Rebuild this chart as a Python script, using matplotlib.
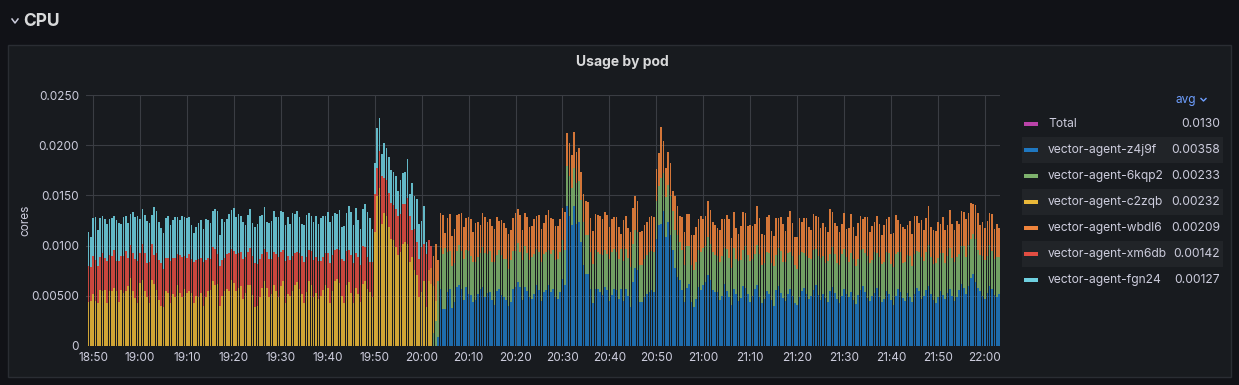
import numpy as np
import pandas as pd
import matplotlib
matplotlib.use("Agg")
import matplotlib.pyplot as plt
import matplotlib.dates as mdates
from matplotlib.lines import Line2D
from matplotlib.patches import Rectangle

plt.rcParams['font.family'] = ['Inter', 'DejaVu Sans']

# samples every 30 s, 18:49:00 .. 22:03:00
times = pd.date_range("2024-01-01 18:49:00", "2024-01-01 22:03:00", freq="30s")

# values in 1e-4 cores, each pod only reports while it is alive
c2zqb_start = 0
c2zqb = [44, 45, 52, 45, 43, 56, 55, 56, 43, 55, 55, 58, 55, 44, 56, 53, 55, 60, 68, 55,
         48, 43, 63, 66, 55, 49, 43, 66, 62, 56, 46, 40, 39, 55, 53, 43, 52, 49, 61, 53,
         49, 57, 53, 55, 53, 43, 50, 49, 53, 40, 49, 55, 56, 65, 61, 62, 40, 50, 55, 57,
         55, 66, 63, 55, 58, 60, 47, 53, 61, 61, 51, 39, 40, 49, 58, 65, 58, 49, 52, 61,
         55, 49, 60, 65, 43, 52, 50, 55, 61, 64, 57, 52, 43, 54, 65, 61, 49, 53, 47, 50,
         56, 61, 58, 43, 55, 65, 67, 63, 50, 43, 61, 64, 53, 43, 58, 52, 44, 62, 65, 57, 54, 49,
         114, 149, 157, 122, 132, 129, 119, 107, 106, 99, 91, 94, 102, 104, 102, 84, 89, 76,
         71, 49, 54, 65, 39,
         65, 62, 47, 20]

xm6db_start = 0
xm6db = [36, 34, 38, 41, 37, 33, 38, 32, 42, 36, 35, 38, 30, 41, 34, 37, 40, 28, 33, 38,
         39, 42, 30, 36, 38, 34, 41, 36, 29, 37, 40, 43, 38, 33, 35, 42, 36, 39, 31, 38,
         40, 33, 35, 37, 34, 41, 36, 38, 35, 44, 37, 33, 31, 34, 36, 30, 40, 36, 33, 35,
         38, 31, 32, 37, 35, 34, 40, 36, 33, 37, 39, 44, 42, 38, 34, 32, 36, 38, 35, 33,
         37, 40, 34, 31, 42, 38, 36, 35, 32, 30, 36, 38, 41, 35, 31, 34, 37, 36, 38, 35,
         33, 32, 35, 40, 36, 31, 30, 33, 37, 42, 34, 32, 38, 40, 35, 37, 37, 38, 34, 32, 30, 35,
         37, 28, 37, 47, 35, 36, 33, 35, 34, 37, 38, 37, 39, 37, 45, 45, 27, 41, 33, 38,
         45, 37, 53,
         30, 22]

fgn24_start = 0
fgn24 = [34, 30, 37, 42, 36, 38, 36, 38, 37, 35, 37, 33, 40, 38, 32, 38, 34, 35, 30, 40,
         41, 44, 33, 34, 37, 42, 39, 28, 47, 41, 38, 35, 36, 39, 41, 36, 37, 40, 36, 34,
         40, 38, 39, 36, 34, 29, 33, 36, 37, 33, 40, 37, 36, 35, 39, 42, 31, 40, 36, 34,
         38, 38, 42, 36, 38, 35, 37, 32, 36, 38, 33, 36, 40, 42, 38, 41, 30, 36, 38, 40,
         36, 39, 40, 37, 36, 38, 36, 42, 38, 40, 35, 32, 37, 41, 36, 34, 38, 40, 37, 42,
         40, 36, 40, 41, 38, 36, 34, 39, 32, 35, 37, 43, 42, 38, 44, 36, 36, 36, 42, 44, 43, 33,
         31, 40, 33, 22, 35, 32, 36, 33, 33, 33, 25, 34, 31, 32, 39, 22, 46, 32, 42, 35,
         26, 37, 12]

z4j9f_start = 149
z4j9f = [9, 57, 37, 37,
         54, 57, 38, 44, 59, 61, 57, 46, 59, 52, 51, 44, 46, 52, 57, 59, 49, 53, 54, 46,
         41, 55, 57, 51, 49, 46, 40, 44, 57, 59, 64, 59, 46, 59, 55, 49, 47, 52, 61, 56,
         45, 54, 56, 61, 54, 57, 49, 47, 54, 67, 61, 139, 129, 121, 139, 122, 124, 104, 81, 72,
         72, 57, 43, 57, 57, 54, 51, 59, 56, 45, 51, 57, 56, 47, 57, 45, 57,
         50,
         39, 64, 78, 76, 44, 44, 49, 52, 54, 56, 54, 107, 121, 122, 134, 109, 124, 111, 96, 78,
         69, 66, 56, 44, 58, 62, 44, 39, 47, 59, 56, 61, 64, 71, 66, 56, 54, 54,
         46, 50, 62, 55, 49, 41, 57, 52, 45, 48, 60, 58, 52, 44, 50, 57, 61, 49, 43, 47,
         55, 52, 46, 40, 56, 60, 53, 48, 45, 52, 57, 50, 43, 41, 49, 55, 58, 52, 47, 50,
         56, 61, 51, 46, 52, 48, 44, 55, 59, 53, 47, 43, 50, 57, 52, 49, 54, 46, 42, 51,
         56, 60, 54, 48, 45, 50, 53, 58, 49, 44, 47, 55, 52, 46, 41, 50, 57, 54, 48, 45,
         53, 49, 44, 52, 58, 55, 47, 50, 56, 60, 52, 46, 43, 49, 55, 51, 47, 53, 57, 50,
         45, 49, 56, 62, 58, 52, 60, 68, 72, 64, 58, 55, 50, 47, 53, 60, 57, 51, 49, 52]

kqp2_start = 147
kqp2 = [13, 25, 56, 41, 55, 61,
        40, 38, 42, 39, 36, 40, 38, 41, 37, 43, 39, 40, 38, 37, 36, 40, 44, 39, 41, 38,
        43, 36, 39, 40, 38, 41, 37, 42, 38, 36, 39, 35, 40, 41, 38, 37, 42, 40, 36, 38,
        39, 38, 38, 35, 38, 39, 37, 40, 40, 39, 35, 40, 40, 36, 38, 40, 40, 41, 43, 39,
        39, 37, 39, 39, 37, 38, 40, 37, 36, 42, 43, 40, 38, 40, 40, 40, 40,
        38,
        40, 38, 38, 38, 37, 37, 38, 39, 40, 39, 40, 37, 38, 45, 38, 39, 36, 38, 38, 38,
        42, 38, 40, 37, 42, 38, 37, 37, 37, 37, 38, 37, 36, 38, 36, 38, 37, 36,
        38, 40, 36, 42, 39, 37, 41, 35, 40, 38, 36, 42, 39, 41, 37, 35, 40, 43, 38, 36,
        39, 41, 37, 40, 35, 38, 42, 36, 39, 41, 37, 40, 38, 36, 42, 39, 35, 38, 41, 37,
        40, 36, 39, 42, 38, 35, 41, 37, 40, 39, 36, 38, 42, 40, 37, 35, 39, 41, 38, 36,
        40, 37, 39, 42, 38, 36, 41, 35, 40, 38, 37, 39, 41, 36, 38, 42, 37, 40, 35, 39,
        38, 41, 36, 40, 37, 39, 42, 35, 38, 41, 37, 36, 40, 39, 38, 42, 36, 37, 41, 38,
        39, 40, 36, 38, 42, 37, 41, 39, 40, 43, 38, 36, 40, 39, 37, 41, 38, 36, 40, 37]

wbdl6_start = 145
wbdl6 = [11, 16, 30, 57, 21, 34, 38, 15,
         33, 36, 30, 34, 35, 30, 37, 32, 31, 33, 36, 30, 39, 35, 28, 33, 35, 32, 31, 36,
         33, 37, 29, 34, 36, 31, 35, 30, 32, 37, 33, 36, 30, 32, 35, 33, 31, 34, 32, 36,
         33, 31, 36, 39, 35, 30, 34, 33, 32, 31, 37, 33, 33, 33, 36, 31, 33, 28, 27, 33,
         32, 33, 33, 35, 36, 37, 35, 37, 38, 32, 32, 31, 34, 32, 15, 40, 32,
         30,
         35, 35, 33, 30, 33, 34, 34, 33, 34, 34, 34, 32, 33, 51, 32, 29, 33, 33, 20, 33,
         28, 25, 32, 33, 31, 31, 30, 35, 35, 30, 35, 28, 29, 35, 33, 30, 30, 28,
         32, 36, 28, 33, 38, 30, 35, 31, 27, 34, 37, 32, 29, 36, 33, 30, 38, 35, 31, 28,
         34, 37, 32, 30, 36, 29, 33, 38, 31, 35, 40, 33, 28, 32, 36, 30, 34, 37, 31, 29,
         35, 32, 38, 30, 33, 36, 29, 44, 34, 31, 37, 33, 30, 35, 28, 34, 38, 32, 30, 36,
         33, 29, 35, 38, 31, 34, 30, 36, 33, 29, 37, 32, 35, 30, 34, 38, 31, 28, 36, 33,
         30, 35, 32, 37, 34, 29, 36, 31, 33, 38, 30, 34, 32, 36, 29, 35, 33, 31, 37, 34,
         32, 36, 30, 34, 33, 37, 31, 35, 29, 33, 36, 30, 34, 32, 35, 31, 36, 30, 33, 29]

legend_names = ["Total", "vector-agent-z4j9f", "vector-agent-6kqp2", "vector-agent-c2zqb",
                "vector-agent-wbdl6", "vector-agent-xm6db", "vector-agent-fgn24"]
legend_avgs = ["0.0130", "0.00358", "0.00233", "0.00232", "0.00209", "0.00142", "0.00127"]
legend_colors = ["#ba43a9", "#1f78c1", "#7eb26d", "#eab839", "#ef843c", "#e24d42", "#6ed0e0"]

yticks = [0, 0.005, 0.010, 0.015, 0.020, 0.025]
ytick_labels = ["0", "0.00500", "0.0100", "0.0150", "0.0200", "0.0250"]


def full(start, vals):
    a = np.zeros(len(times))
    a[start:start + len(vals)] = vals
    return a * 1e-4


# stacking order bottom -> top
stack = [
    (full(z4j9f_start, z4j9f), "#1f78c1"),
    (full(kqp2_start, kqp2), "#7eb26d"),
    (full(c2zqb_start, c2zqb), "#eab839"),
    (full(wbdl6_start, wbdl6), "#ef843c"),
    (full(xm6db_start, xm6db), "#e24d42"),
    (full(fgn24_start, fgn24), "#6ed0e0"),
]

W, H = 1239, 385
BG = "#111217"
PANEL = "#181b1f"
TXT = "#ccccdc"

fig = plt.figure(figsize=(W / 100, H / 100), dpi=100)
fig.patch.set_facecolor(BG)


def fx(x):
    return x / W


def fy(y):
    return 1 - y / H


# panel box (behind the axes)
fig.patches.append(Rectangle((fx(8), fy(377)), fx(1231) - fx(8), fy(45) - fy(377),
                             transform=fig.transFigure, facecolor=PANEL,
                             edgecolor="#2a2d33", lw=1, zorder=-10))

# row header
fig.lines.append(Line2D([fx(12), fx(15), fx(18)], [fy(19), fy(23), fy(19)],
                        transform=fig.transFigure, color=TXT, lw=1.1))
fig.text(fx(23), fy(21), "CPU", color="#d8d9da", fontsize=12.5, fontweight="bold",
         va="center", ha="left")
fig.text(fx(622), fy(62), "Usage by pod", color="#d8d9da", fontsize=10,
         fontweight="bold", va="center", ha="center")

ax = fig.add_axes([fx(86), fy(346), fx(1000) - fx(86), fy(95) - fy(346)])
ax.set_facecolor("none")
ax.set_zorder(5)

x = mdates.date2num(times.to_pydatetime())
width = 21 / 86400
bottom = np.zeros(len(times))
for vals, col in stack:
    ax.bar(x, vals, width=width, bottom=bottom, color=col, alpha=0.88,
           linewidth=0, zorder=2)
    bottom += vals

ax.set_ylim(0, 0.025)
ax.set_xlim(mdates.date2num(pd.Timestamp("2024-01-01 18:48:30")),
            mdates.date2num(pd.Timestamp("2024-01-01 22:03:12")))
ax.set_yticks(yticks)
ax.set_yticklabels(ytick_labels)
ax.xaxis.set_major_locator(mdates.MinuteLocator(byminute=range(0, 60, 10)))
ax.xaxis.set_major_formatter(mdates.DateFormatter("%H:%M"))
ax.tick_params(length=0, colors=TXT, labelsize=8.5)
ax.tick_params(axis="y", pad=5)
ax.tick_params(axis="x", pad=4)
ax.set_axisbelow(True)
ax.grid(True, color="#3a3d43", lw=0.8)
for s in ax.spines.values():
    s.set_visible(False)

# axis label placed where grafana puts it
fig.text(fx(25), fy(220), "cores", color=TXT, fontsize=8.5, rotation=90,
         ha="center", va="center")

# legend table
fig.text(fx(1196), fy(100), "avg", color="#6e9fff", fontsize=8.5, ha="right", va="center")
fig.lines.append(Line2D([fx(1201), fx(1203.5), fx(1206)], [fy(98.5), fy(101), fy(98.5)],
                        transform=fig.transFigure, color="#6e9fff", lw=1))
for i, (name, avg, col) in enumerate(zip(legend_names, legend_avgs, legend_colors)):
    yc = 124 + 26 * i
    if i % 2 == 1:
        fig.patches.append(Rectangle((fx(1022), fy(yc + 12.7)), fx(1223) - fx(1022), fy(yc - 12.7) - fy(yc + 12.7),
                                     transform=fig.transFigure, facecolor="#212428",
                                     edgecolor="none", zorder=1))
    fig.patches.append(Rectangle((fx(1024), fy(yc + 2)), fx(1038) - fx(1024), fy(yc - 2) - fy(yc + 2),
                                 transform=fig.transFigure, facecolor=col,
                                 edgecolor="none", zorder=2))
    fig.text(fx(1048), fy(yc), name, color=TXT, fontsize=8.7, ha="left", va="center")
    fig.text(fx(1220), fy(yc), avg, color=TXT, fontsize=8.7, ha="right", va="center")

fig.savefig("out.png", dpi=100, facecolor=BG)
